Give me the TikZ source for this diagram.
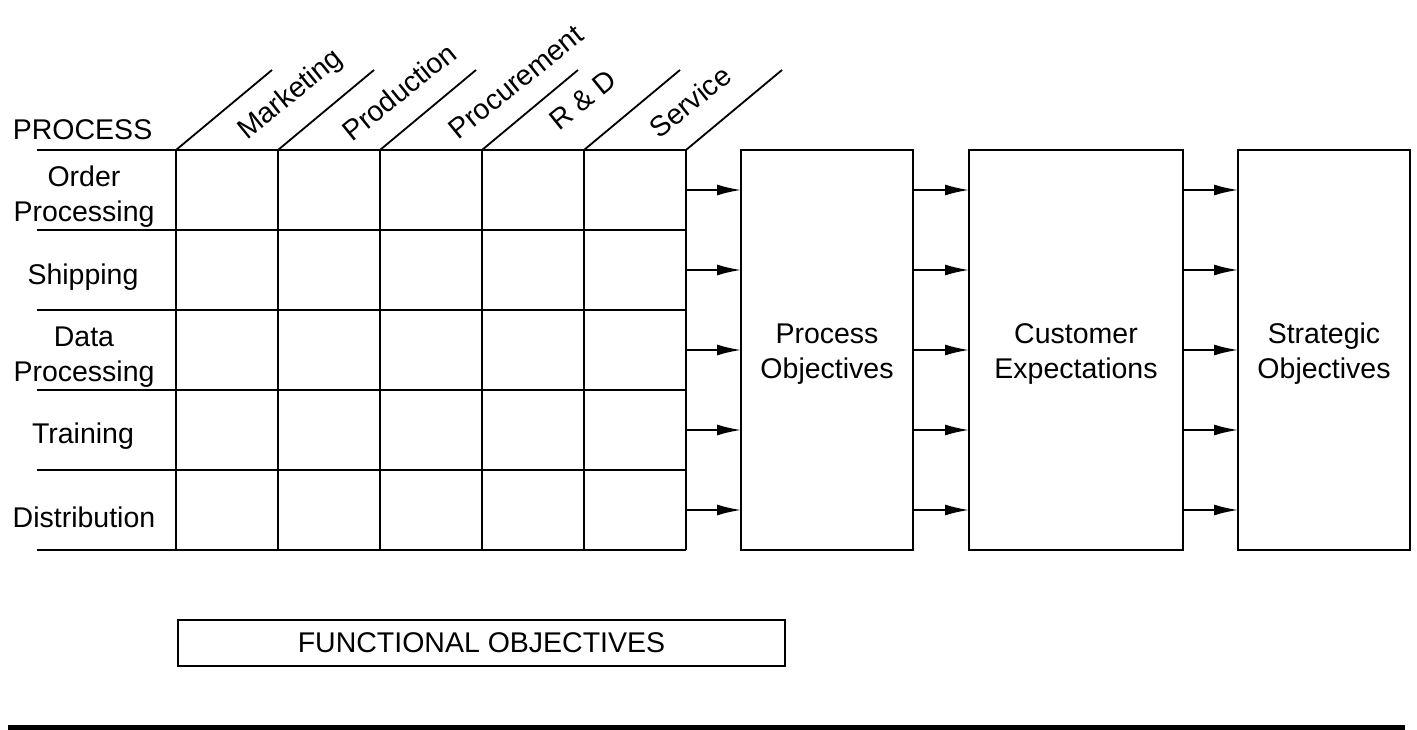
\documentclass[tikz,border=0pt]{standalone}
\usepackage{fontspec}
\setmainfont{Liberation Sans}
\usetikzlibrary{arrows.meta}
\begin{document}
\begin{tikzpicture}[x=1pt,y=-1pt,line width=1.8pt,
  lbl/.style={font=\fontsize{28.5}{35}\selectfont,align=center,inner sep=0},
  hdr/.style={lbl,rotate=39},
  bigbox/.style={draw,minimum width=172,minimum height=400,lbl,text depth=-6pt},
  arr/.style={-{Latex[length=24pt,width=11pt]}}]
\useasboundingbox (0,0) rectangle (1417,730);
% grid
\foreach \y in {150,230,310,390,470,550} \draw (37,\y) -- (686,\y);
\foreach \x in {176,278,380,482,584,686} {\draw (\x,150) -- (\x,550); \draw (\x,150) -- ++(96,-80);}
\node[lbl,anchor=west] (p) at (12,130) {PROCESS};
\node[hdr] (h1) at (291,95) {Marketing};
\node[hdr] (h2) at (399,92) {Production};
\node[hdr] (h3) at (516,82) {Procurement};
\node[hdr] (h4) at (583,100) {R \& D};
\node[hdr] (h5) at (690,102) {Service};
\node[lbl] (r1) at (84,197) {Order\\Processing};
\node[lbl] (r2) at (83,277) {Shipping};
\node[lbl] (r3) at (84,357) {Data\\Processing};
\node[lbl] (r4) at (83,436) {Training};
\node[lbl] (r5) at (84,517) {Distribution};
\node[lbl] (po) at (827,354) {Process\\Objectives};
\node[lbl] (ce) at (1076,354) {Customer\\Expectations};
\node[lbl] (so) at (1324,354) {Strategic\\Objectives};
\draw (741,150) rectangle (913,550);
\draw (969,150) rectangle (1183,550);
\draw (1238,150) rectangle (1410,550);
\foreach \y in {190,270,350,430,510} {
  \coordinate (s) at (686,\y);
  \draw[arr] (s) -- (741,\y);
  \draw[arr] (913,\y) -- (969,\y);
  \draw[arr] (1183,\y) -- (1238,\y);}
\node[draw,lbl,minimum width=607,minimum height=46] (fo) at (481.5,643) {FUNCTIONAL OBJECTIVES};
\draw[line width=5pt] (8,727) -- (1405,727);
\end{tikzpicture}
\end{document}
